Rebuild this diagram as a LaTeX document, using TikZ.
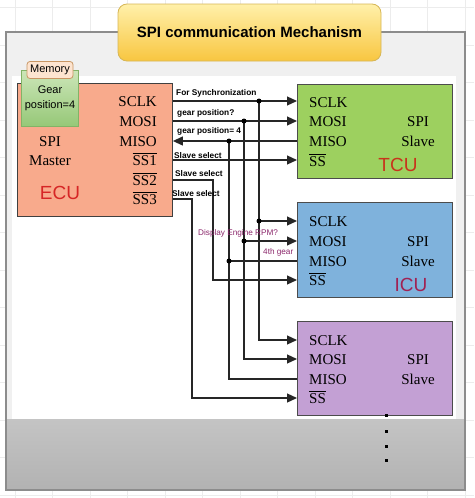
\documentclass[tikz,border=0pt]{standalone}
\usepackage{fontspec}
\setmainfont{Liberation Serif}
\setsansfont{Liberation Sans}
\usetikzlibrary{arrows.meta,positioning}
\definecolor{salmonSpi}{RGB}{248,170,140}
\definecolor{greenTcu}{RGB}{157,208,95}
\definecolor{blueIcu}{RGB}{127,178,220}
\definecolor{purpleSpi}{RGB}{195,160,212}
\definecolor{redEcu}{RGB}{214,38,38}
\definecolor{redTcu}{RGB}{200,52,28}
\definecolor{redIcu}{RGB}{160,34,84}
\definecolor{purpleLabel}{RGB}{140,40,108}
\definecolor{greenMemTop}{RGB}{205,230,185}
\definecolor{greenMemBot}{RGB}{150,200,120}
\definecolor{greenMemLine}{RGB}{130,179,102}
\definecolor{peachMem}{RGB}{253,228,208}
\definecolor{brownMem}{RGB}{200,150,100}
\definecolor{yellowTop}{RGB}{255,240,170}
\definecolor{yellowBot}{RGB}{248,198,64}
\definecolor{yellowLine}{RGB}{214,182,86}
\definecolor{frameTop}{RGB}{240,240,240}
\definecolor{frameMid}{RGB}{196,196,196}
\definecolor{frameBot}{RGB}{178,178,178}
\definecolor{frameLine}{RGB}{140,140,140}
\definecolor{gridGray}{RGB}{236,236,236}
\newcommand{\ovl}[1]{\ensuremath{\overline{\hbox{#1}}}}

\tikzset{
	pinlabel/.style={font=\fontsize{15}{15}\selectfont, inner sep=0pt, text height=10pt, text depth=0pt},
	unitlabel/.style={font=\sffamily\fontsize{19}{19}\selectfont, inner sep=0pt},
	linelabel/.style={font=\sffamily\bfseries\fontsize{8.3}{8.3}\selectfont, inner sep=0pt, anchor=west},
	msglabel/.style={font=\sffamily\fontsize{8.2}{8.2}\selectfont, inner sep=0pt, anchor=west, text=purpleLabel},
	slavebox/.style={draw=black!70, line width=0.9pt, minimum width=155pt, anchor=north west},
	sig/.style={line width=1.2pt, draw=black!85},
	sigarrow/.style={sig, -{Triangle[length=10pt,width=9pt]}},
	busdot/.style={circle, fill=black, inner sep=0pt, minimum size=5pt},
	moredot/.style={rectangle, fill=black, inner sep=0pt, minimum size=3pt},
}

\begin{document}
\begin{tikzpicture}[x=1pt, y=-1pt]
	\useasboundingbox (0,0) rectangle (474,498);

	% background grid
	\foreach \gx in {0,...,12}
		\draw[gridGray, line width=0.6pt] ({15+37.5*\gx},0) -- ({15+37.5*\gx},498);
	\foreach \gy in {0,...,13}
		\draw[gridGray, line width=0.6pt] (0,{7.5+37.5*\gy}) -- (474,{7.5+37.5*\gy});

	% frame
	\fill[frameTop] (6,32) rectangle (465,419);
	\fill[top color=frameMid, bottom color=frameBot] (6,419) rectangle (465,490);
	\fill[white] (12,76) rectangle (456,419);
	\draw[frameLine, line width=1.2pt] (6,32) rectangle (465,490);

	% title
	\node[draw=yellowLine, line width=0.8pt, rounded corners=9pt, top color=yellowTop, bottom color=yellowBot,
		minimum width=263pt, minimum height=57pt, font=\sffamily\bfseries\fontsize{15}{15}\selectfont] (title) at (249.5,32.5) {SPI communication Mechanism};

	% master
	\node[draw=black!75, line width=0.9pt, fill=salmonSpi, minimum width=155pt, minimum height=133pt, anchor=north west] (ecu) at (17,83) {};
	\node[draw=greenMemLine, line width=0.8pt, top color=greenMemTop, bottom color=greenMemBot, minimum width=56pt, minimum height=56pt,
		align=center, font=\sffamily\fontsize{11}{15}\selectfont] (mem) at (50,98) {Gear\\position=4};
	\node[draw=brownMem, line width=0.8pt, fill=peachMem, rounded corners=3pt, minimum width=46pt, minimum height=17pt, inner sep=0pt,
		font=\sffamily\fontsize{11}{11}\selectfont] (memlabel) at (50,70) {Memory};
	\node[pinlabel] (espi) at (50,141) {SPI};
	\node[pinlabel] (emaster) at (50,160) {Master};
	\node[unitlabel, text=redEcu] (ecuname) at (60,193) {ECU};
	\node[pinlabel, anchor=east] (esclk) at (157,101) {SCLK};
	\node[pinlabel, anchor=east] (emosi) at (157,121) {MOSI};
	\node[pinlabel, anchor=east] (emiso) at (157,141) {MISO};
	\node[pinlabel, anchor=east] (ess1) at (157,160) {\ovl{SS1}};
	\node[pinlabel, anchor=east] (ess2) at (157,180) {\ovl{SS2}};
	\node[pinlabel, anchor=east] (ess3) at (157,199) {\ovl{SS3}};

	% slaves
	\node[slavebox, fill=greenTcu, minimum height=94pt] (tcu) at (297,84) {};
	\node[pinlabel, anchor=west] (tsclk) at (309,102) {SCLK};
	\node[pinlabel, anchor=west] (tmosi) at (309,121) {MOSI};
	\node[pinlabel, anchor=west] (tmiso) at (309,141) {MISO};
	\node[pinlabel, anchor=west] (tss) at (309,161) {\ovl{SS}};
	\node[pinlabel] (tspi) at (418,121) {SPI};
	\node[pinlabel] (tslave) at (418,141) {Slave};
	\node[unitlabel, text=redTcu] (tcuname) at (398,165) {TCU};

	\node[slavebox, fill=blueIcu, minimum height=95pt] (icu) at (297,202) {};
	\node[pinlabel, anchor=west] (isclk) at (309,221) {SCLK};
	\node[pinlabel, anchor=west] (imosi) at (309,241) {MOSI};
	\node[pinlabel, anchor=west] (imiso) at (309,261) {MISO};
	\node[pinlabel, anchor=west] (iss) at (309,280) {\ovl{SS}};
	\node[pinlabel] (ispi) at (418,241) {SPI};
	\node[pinlabel] (islave) at (418,261) {Slave};
	\node[unitlabel, text=redIcu] (icuname) at (411,285) {ICU};

	\node[slavebox, fill=purpleSpi, minimum height=94pt] (pur) at (297,321) {};
	\node[pinlabel, anchor=west] (psclk) at (309,340) {SCLK};
	\node[pinlabel, anchor=west] (pmosi) at (309,359) {MOSI};
	\node[pinlabel, anchor=west] (pmiso) at (309,379) {MISO};
	\node[pinlabel, anchor=west] (pss) at (309,398) {\ovl{SS}};
	\node[pinlabel] (pspi) at (418,359) {SPI};
	\node[pinlabel] (pslave) at (418,379) {Slave};

	% more slaves
	\node[moredot] (more1) at (386,415) {};
	\node[moredot] (more2) at (386,431) {};
	\node[moredot] (more3) at (386,446) {};
	\node[moredot] (more4) at (386,460) {};

	% bus junctions
	\coordinate (jsclk) at (259,0 |- esclk);
	\coordinate (jmosi) at (244,0 |- emosi);
	\coordinate (jmiso) at (229,0 |- emiso);
	\coordinate (kss2) at (213,0 |- ess2);
	\coordinate (kss3) at (192,0 |- ess3);

	% connectors
	\draw[sigarrow] (ecu.east |- esclk) -- (tcu.west |- esclk);
	\draw[sigarrow] (ecu.east |- emosi) -- (tcu.west |- emosi);
	\draw[sigarrow] (tcu.west |- emiso) -- (ecu.east |- emiso);
	\draw[sigarrow] (ecu.east |- ess1) -- (tcu.west |- ess1);

	\draw[sigarrow] (jsclk) |- (pur.west |- psclk);
	\draw[sigarrow] (jsclk |- isclk) -- (icu.west |- isclk);
	\draw[sigarrow] (jmosi) |- (pur.west |- pmosi);
	\draw[sigarrow] (jmosi |- imosi) -- (icu.west |- imosi);
	\draw[sig] (jmiso) |- (pur.west |- pmiso);
	\draw[sig] (jmiso |- imiso) -- (icu.west |- imiso);
	\draw[sigarrow] (ecu.east |- ess2) -- (kss2) |- (icu.west |- iss);
	\draw[sigarrow] (ecu.east |- ess3) -- (kss3) |- (pur.west |- pss);

	\node[busdot] at (jsclk) {};
	\node[busdot] at (jmosi) {};
	\node[busdot] at (jmiso) {};
	\node[busdot] at (jsclk |- isclk) {};
	\node[busdot] at (jmosi |- imosi) {};
	\node[busdot] at (jmiso |- imiso) {};

	% signal labels
	\node[linelabel] (lsync) at (176,93) {For Synchronization};
	\node[linelabel] (lgearq) at (177,113) {gear position?};
	\node[linelabel] (lgeara) at (177,131) {gear position= 4};
	\node[linelabel] (lsel1) at (174,156) {Slave select};
	\node[linelabel] (lsel2) at (175,174) {Slave select};
	\node[linelabel] (lsel3) at (172,194) {Slave select};
	\node[msglabel] (lrpm) at (198,233) {Display Engine RPM?};
	\node[msglabel] (lgear) at (263,252) {4th gear};
\end{tikzpicture}
\end{document}
